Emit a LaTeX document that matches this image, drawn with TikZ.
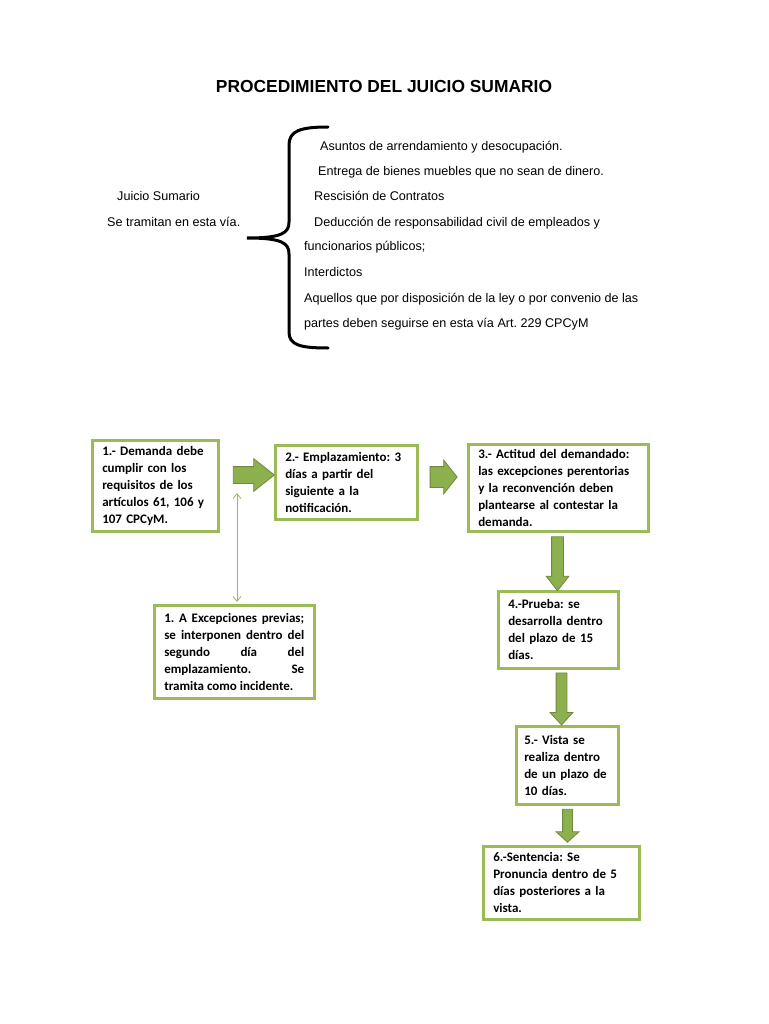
\documentclass[tikz,border=0pt]{standalone}
\usepackage{fontspec}
\setmainfont{Liberation Sans}
\newfontfamily\boxfont{Carlito}
\usepackage{tikz}
\usetikzlibrary{shapes.arrows,arrows.meta}
\definecolor{boxgreen}{HTML}{9BBB59}
\definecolor{arrowgreen}{HTML}{8DB04F}
\definecolor{arrowdark}{HTML}{71893F}
\frenchspacing

\tikzset{
  stepbox/.style={draw=boxgreen, line width=2.5pt, fill=white, anchor=north west,
    inner xsep=10pt, inner ysep=3pt, align=left,
    font=\boxfont\bfseries\fontsize{13}{17}\selectfont},
  bigarrow/.style={single arrow, draw=arrowdark, fill=arrowgreen, line width=0.8pt,
    inner xsep=0pt, single arrow head indent=0pt},
  listitem/.style={anchor=base west, inner sep=0pt, font=\fontsize{12.6}{15}\selectfont},
  bracestroke/.style={line width=3pt, line cap=round},
  thinlink/.style={draw=boxgreen, line width=0.8pt,
    {Straight Barb[length=5pt,width=8pt]}-{Straight Barb[length=5pt,width=8pt]}},
}

\begin{document}
\begin{tikzpicture}[x=1pt,y=-1pt]
 \path[use as bounding box, fill=white] (0,0) rectangle (768,1024);
 \node[font=\bfseries\fontsize{17.4}{20}\selectfont] (title) at (384,87) {PROCEDIMIENTO DEL JUICIO SUMARIO};
 % left side
 \node[listitem] (juicio) at (117,201) {Juicio Sumario};
 \node[listitem] (tramitan) at (107,226) {Se tramitan en esta vía.};
 % brace
 \coordinate (bracetop) at (328,127);
 \coordinate (bracetip) at (247,238);
 \coordinate (bracebot) at (328,348);
 \draw[bracestroke] (bracetop) .. controls (300,127) and (289,131) .. (289,145) -- (289,222)
   .. controls (289,233) and (282,238) .. (bracetip)
   .. controls (282,238) and (289,243) .. (289,254) -- (289,332)
   .. controls (289,345) and (300,348) .. (bracebot);
 % items
 \node[listitem] (item1) at (320,151) {Asuntos de arrendamiento y desocupación.};
 \node[listitem] (item2) at (318,176) {Entrega de bienes muebles que no sean de dinero.};
 \node[listitem] (item3) at (314,201) {Rescisión de Contratos};
 \node[listitem] (item4) at (314,226) {Deducción de responsabilidad civil de empleados y};
 \node[listitem] (item5) at (304,251) {funcionarios públicos;};
 \node[listitem] (item6) at (304,276) {Interdictos};
 \node[listitem] (item7) at (304,302) {Aquellos que por disposición de la ley o por convenio de las};
 \node[listitem] (item8) at (304,327) {partes deben seguirse en esta vía Art. 229 CPCyM};
 % steps
 \node[stepbox, text width=106pt, minimum height=91pt] (demanda) at (91,439)
  {1.- Demanda debe\\cumplir con los\\requisitos de los\\artículos 61, 106 y\\107 CPCyM.};
 \node[stepbox, text width=122pt, minimum height=74pt] (emplazamiento) at (274,444)
  {2.- Emplazamiento: 3\\días a partir del\\siguiente a la\\notificación.};
 \node[stepbox, text width=160pt, minimum height=87pt] (actitud) at (467,443)
  {3.- Actitud del demandado:\\las excepciones perentorias\\y la reconvención deben\\plantearse al contestar la\\demanda.};
 \node[stepbox, align=justify, text width=140pt, minimum height=93pt] (excepciones) at (153,604)
  {1. A Excepciones previas;\linebreak se interponen dentro del\linebreak segundo día del\linebreak emplazamiento. Se\linebreak tramita como incidente.};
 \node[stepbox, text width=100pt, minimum height=77pt] (prueba) at (497,590)
  {4.-Prueba: se\\desarrolla dentro\\del plazo de 15\\días.};
 \node[stepbox, inner xsep=8pt, text width=86pt, minimum height=78pt] (vista) at (515,725)
  {5.- Vista se\\realiza dentro\\de un plazo de\\10 días.};
 \node[stepbox, text width=136pt, minimum height=73pt] (sentencia) at (482,845)
  {6.-Sentencia: Se\\Pronuncia dentro de 5\\días posteriores a la\\vista.};
 % block arrows
 \node[bigarrow, minimum height=41pt, inner ysep=8pt, single arrow head extend=8pt,
   single arrow tip angle=77] (arrA) at (248.5,475) {};
 \node[bigarrow, minimum height=27pt, inner ysep=10pt, single arrow head extend=6.5pt,
   single arrow tip angle=103] (arrB) at (439.5,477) {};
 \node[bigarrow, rotate=-90, minimum height=54pt, inner ysep=5.5pt, single arrow head extend=5.5pt,
   single arrow tip angle=76] (arrC) at (557.5,560) {};
 \node[bigarrow, rotate=-90, minimum height=52pt, inner ysep=5pt, single arrow head extend=6pt,
   single arrow tip angle=85] (arrD) at (561.5,696) {};
 \node[bigarrow, rotate=-90, minimum height=33pt, inner ysep=4.5pt, single arrow head extend=6.5pt,
   single arrow tip angle=95] (arrE) at (567.5,823.5) {};
 % link to excepciones
 \coordinate (linktop) at (237,493);
 \draw[thinlink, shorten >=2pt] (linktop) -- (linktop |- excepciones.north);
\end{tikzpicture}
\end{document}
